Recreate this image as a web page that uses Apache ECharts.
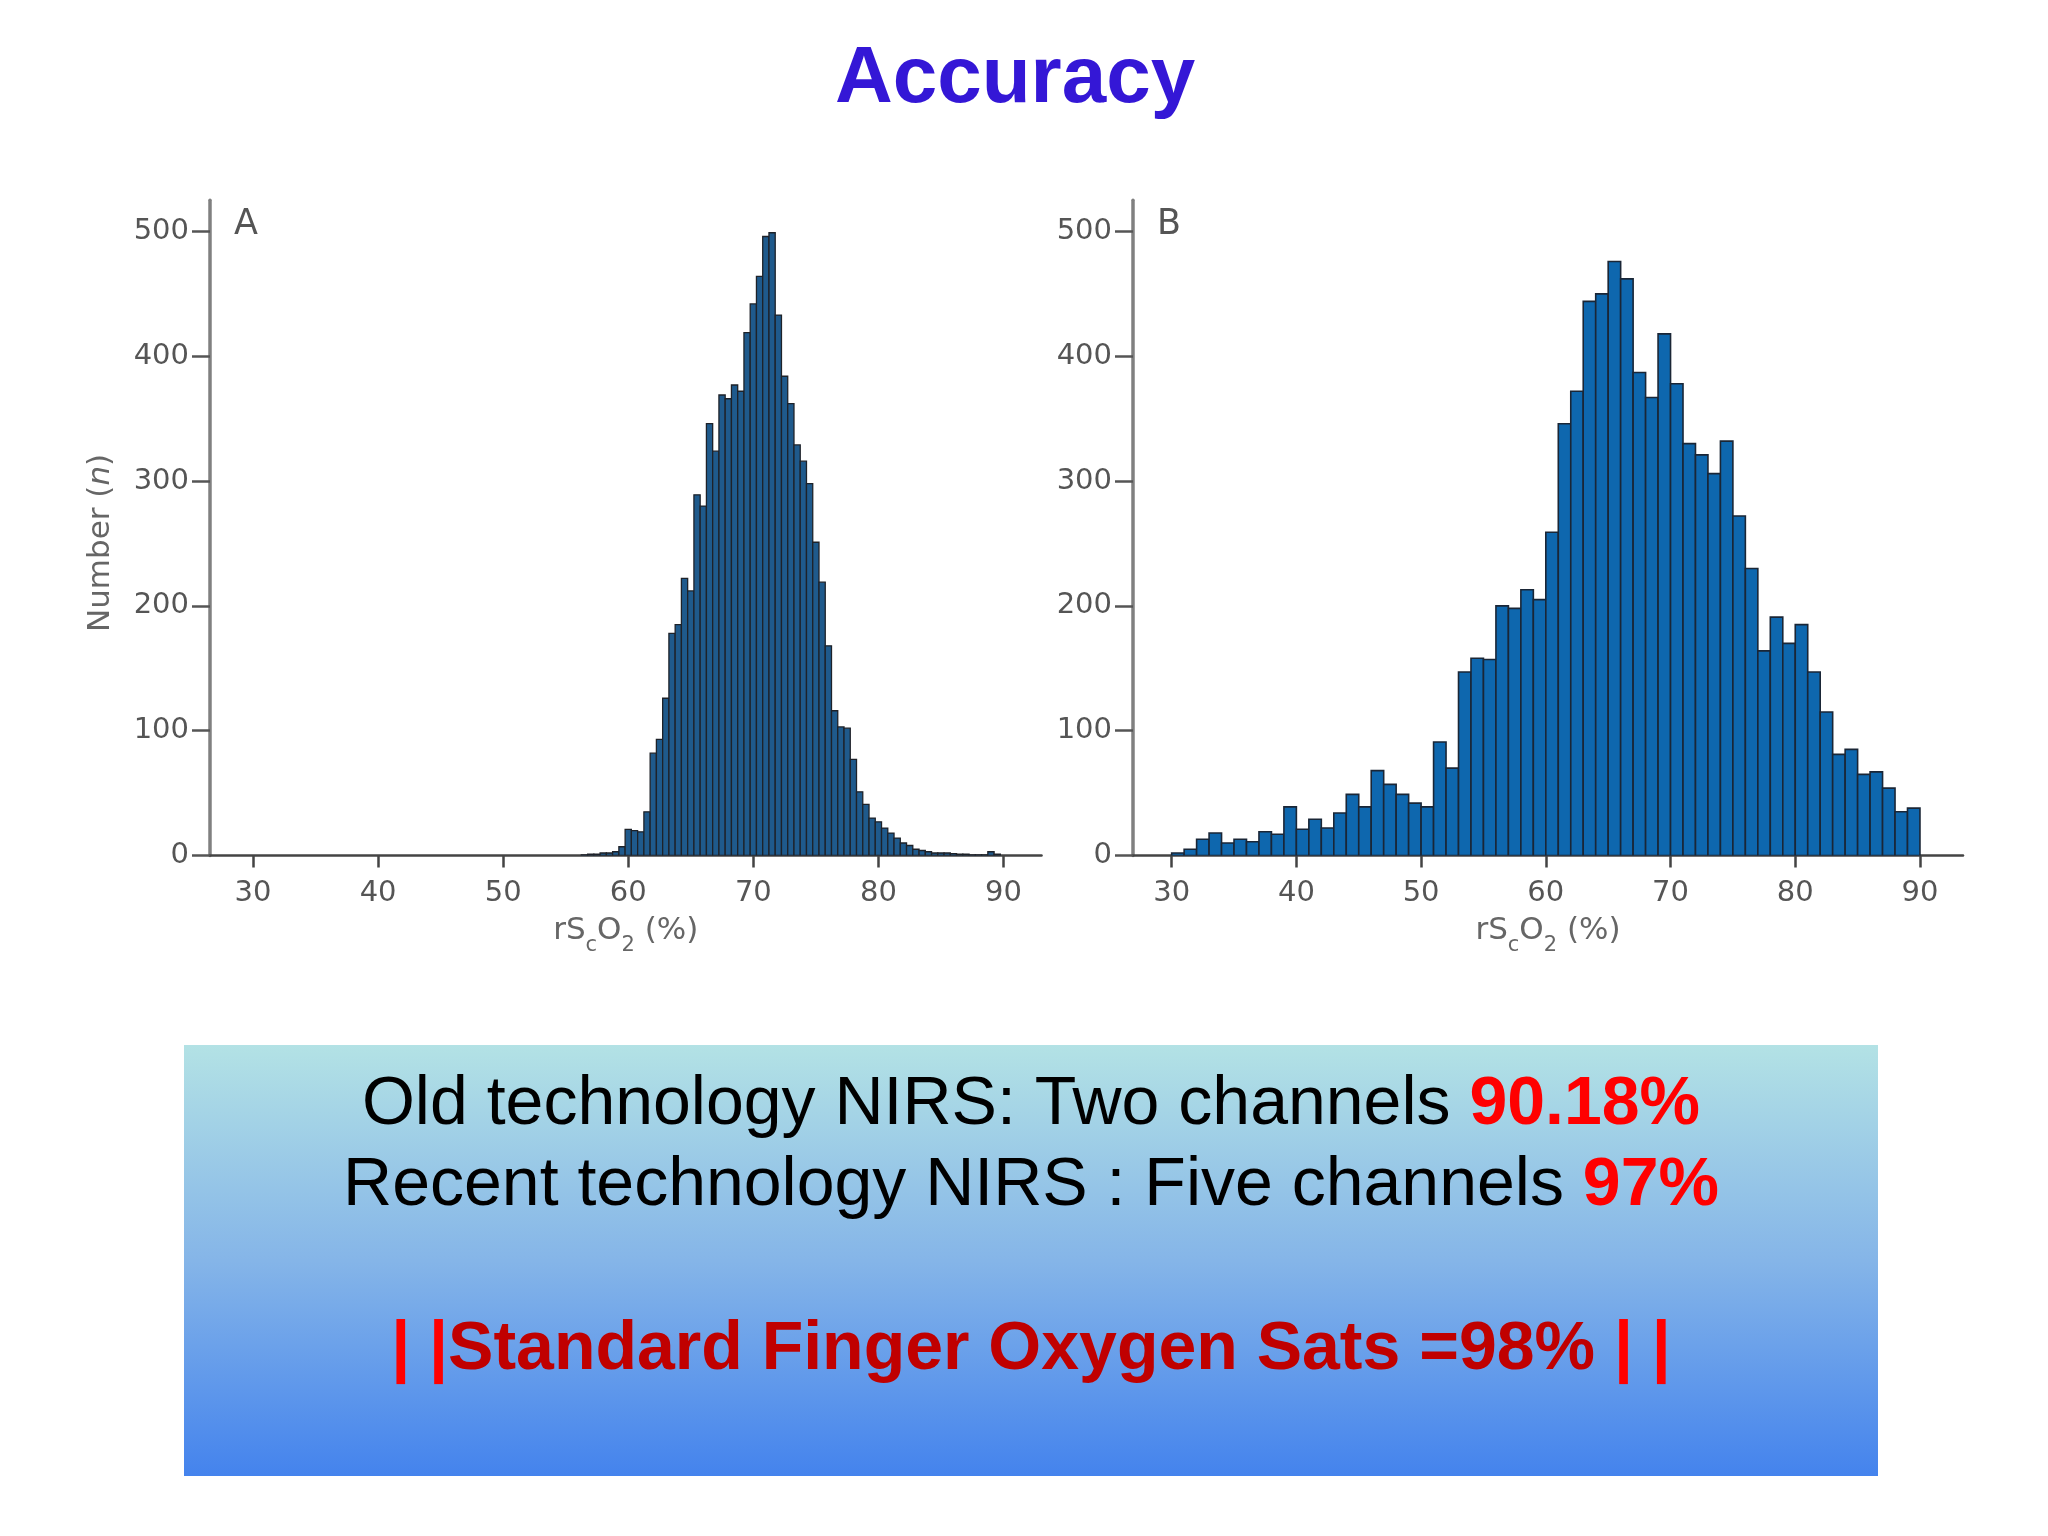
<!DOCTYPE html>
<html>
<head>
<meta charset="utf-8">
<script src="https://cdn.jsdelivr.net/npm/echarts@6/dist/echarts.min.js"></script>
<style>
  html, body { margin: 0; padding: 0; background: #ffffff; }
  #chart { width: 2048px; height: 1536px; }
</style>
</head>
<body>
<div id="chart"></div>
<script>
// ---------- DATA ----------
// Panel A: bin centres (0.5 % wide bins) and counts
const binsA = [56.5, 57, 57.5, 58, 58.5, 59, 59.5, 60, 60.5, 61, 61.5, 62, 62.5, 63, 63.5, 64, 64.5, 65, 65.5,
  66, 66.5, 67, 67.5, 68, 68.5, 69, 69.5, 70, 70.5, 71, 71.5, 72, 72.5, 73, 73.5, 74, 74.5, 75, 75.5,
  76, 76.5, 77, 77.5, 78, 78.5, 79, 79.5, 80, 80.5, 81, 81.5, 82, 82.5, 83, 83.5, 84, 84.5, 85, 85.5,
  86, 86.5, 87, 87.5, 88, 88.5, 89, 89.5];
const countsA = [0.5, 1, 1, 2, 2, 3, 7, 21, 20, 19, 35, 82, 93, 126, 178, 185, 222, 212, 289,
  280, 346, 324, 369, 366, 377, 372, 419, 442, 464, 496, 499, 433, 384, 362, 329, 316, 298, 251, 219,
  168, 116, 103, 102, 77, 51, 41, 30, 27, 22, 18, 14, 10, 8, 5, 4, 3, 2, 2, 2,
  1.5, 1, 1, 0.5, 0.5, 0.5, 3, 1];
const binWidthA = 0.5;

// Panel B: bin centres (1 % wide bins) and counts
const binsB = [30.5, 31.5, 32.5, 33.5, 34.5, 35.5, 36.5, 37.5, 38.5, 39.5, 40.5, 41.5, 42.5, 43.5, 44.5,
  45.5, 46.5, 47.5, 48.5, 49.5, 50.5, 51.5, 52.5, 53.5, 54.5, 55.5, 56.5, 57.5, 58.5, 59.5, 60.5,
  61.5, 62.5, 63.5, 64.5, 65.5, 66.5, 67.5, 68.5, 69.5, 70.5, 71.5, 72.5, 73.5, 74.5, 75.5, 76.5,
  77.5, 78.5, 79.5, 80.5, 81.5, 82.5, 83.5, 84.5, 85.5, 86.5, 87.5, 88.5, 89.5];
const countsB = [2, 5, 13, 18, 10, 13, 11, 19, 17, 39, 21, 29, 22, 34, 49,
  39, 68, 57, 49, 42, 39, 91, 70, 147, 158, 157, 200, 198, 213, 205, 259,
  346, 372, 444, 450, 476, 462, 387, 367, 418, 378, 330, 321, 306, 332, 272, 230,
  164, 191, 170, 185, 147, 115, 81, 85, 65, 67, 54, 35, 38];
const binWidthB = 1;

// Tick labels
const xTicks = [30, 40, 50, 60, 70, 80, 90];
const yTicks = [0, 100, 200, 300, 400, 500];

// Texts
const titleText = 'Accuracy';
const yAxisName = 'Number ({i|n})';
const xAxisName = '{m|rS}{s|c}{m|O}{s|2}{m| (%)}';
const line1 = '{n|Old technology NIRS: Two channels }{r|90.18%}';
const line2 = '{n|Recent technology NIRS : Five channels }{r|97%}';
const line3 = '{p|| |}{d|Standard Finger Oxygen Sats =98%}{p| | |}';

// ---------- CHART ----------
const chart = echarts.init(document.getElementById('chart'), null, { renderer: 'canvas', width: 2048, height: 1536 });

const labelFont = 'DejaVu Sans';
const grey = '#555555';

function xAxisCfg(gridIndex, min, max) {
  return {
    type: 'value', gridIndex: gridIndex, min: min, max: max,
    splitLine: { show: false },
    axisLine: { show: true, onZero: false, lineStyle: { color: '#444444', width: 2.5 } },
    axisTick: { show: true, length: 12, customValues: xTicks, lineStyle: { color: '#444444', width: 2.5 } },
    axisLabel: { show: true, customValues: xTicks, margin: 23, color: grey, fontSize: 29, fontFamily: labelFont },
    name: xAxisName, nameLocation: 'middle', nameGap: 60,
    nameTextStyle: {
      rich: {
        m: { fontSize: 31, fontFamily: labelFont, color: '#666666', verticalAlign: 'bottom', padding: [0, 0, 10, 0] },
        s: { fontSize: 21, fontFamily: labelFont, color: '#666666', verticalAlign: 'bottom' }
      }
    }
  };
}
function yAxisCfg(gridIndex, withName) {
  const cfg = {
    type: 'value', gridIndex: gridIndex, min: 0, max: 525,
    splitLine: { show: false },
    axisLine: { show: true, onZero: false, lineStyle: { color: '#808080', width: 3.5 } },
    axisTick: { show: true, length: 18, customValues: yTicks, lineStyle: { color: '#555555', width: 2.5 } },
    axisLabel: { show: true, customValues: yTicks, margin: 21, color: grey, fontSize: 29, fontFamily: labelFont }
  };
  if (withName) {
    cfg.name = yAxisName;
    cfg.nameLocation = 'middle';
    cfg.nameRotate = 90;
    cfg.nameGap = 94;
    cfg.nameTextStyle = {
      fontSize: 31, fontFamily: labelFont, color: '#666666', padding: [0, 30, 0, 0],
      rich: { i: { fontSize: 31, fontFamily: labelFont, color: '#666666', fontStyle: 'italic' } }
    };
  }
  return cfg;
}

function histSeries(idx, bins, counts, width, fill, stroke, lw) {
  return {
    type: 'custom', xAxisIndex: idx, yAxisIndex: idx, clip: true,
    data: bins.map((b, i) => [b, counts[i]]),
    encode: { x: 0, y: 1 },
    renderItem: function (params, api) {
      const c = api.value(0), v = api.value(1);
      const p0 = api.coord([c - width / 2, v]);
      const p1 = api.coord([c + width / 2, 0]);
      return {
        type: 'rect',
        shape: { x: p0[0], y: p0[1], width: p1[0] - p0[0], height: p1[1] - p0[1] },
        style: { fill: fill, stroke: stroke, lineWidth: lw }
      };
    },
    z: 1
  };
}

const option = {
  backgroundColor: '#ffffff',
  animation: false,
  grid: [
    { left: 210, top: 200.3, width: 831.5, height: 655.2, containLabel: false },
    { left: 1133, top: 200.3, width: 830, height: 655.2, containLabel: false }
  ],
  xAxis: [xAxisCfg(0, 26.56, 93.04), xAxisCfg(1, 26.9, 93.45)],
  yAxis: [yAxisCfg(0, true), yAxisCfg(1, false)],
  series: [
    histSeries(0, binsA, countsA, binWidthA, '#1f5a8c', '#1e2229', 1.3),
    histSeries(1, binsB, countsB, binWidthB, '#0e67ae', '#1a2636', 1.6)
  ],
  graphic: [
    { type: 'text', x: 1015, y: 80, style: { text: titleText, fill: '#3417d6', font: 'bold 80px "Liberation Sans", Arial, sans-serif', align: 'center', verticalAlign: 'middle' } },
    { type: 'text', x: 246, y: 225, style: { text: 'A', fill: grey, font: '35px "DejaVu Sans"', align: 'center', verticalAlign: 'middle' } },
    { type: 'text', x: 1169, y: 225, style: { text: 'B', fill: grey, font: '35px "DejaVu Sans"', align: 'center', verticalAlign: 'middle' } },
    {
      type: 'rect', shape: { x: 184, y: 1045, width: 1694, height: 431 },
      style: {
        fill: new echarts.graphic.LinearGradient(0, 0, 0, 1, [
          { offset: 0, color: '#b3e2e5' },
          { offset: 0.5, color: '#85b5e8' },
          { offset: 1, color: '#4483ed' }
        ])
      }, z: 0
    },
    {
      type: 'text', x: 1031, y: 1105, z: 5,
      style: {
        text: line1, align: 'center', verticalAlign: 'middle',
        rich: {
          n: { fontSize: 68, fontFamily: 'Liberation Sans', fill: '#000000' },
          r: { fontSize: 68, fontFamily: 'Liberation Sans', fontWeight: 'bold', fill: '#ff0000' }
        }
      }
    },
    {
      type: 'text', x: 1031, y: 1186, z: 5,
      style: {
        text: line2, align: 'center', verticalAlign: 'middle',
        rich: {
          n: { fontSize: 68, fontFamily: 'Liberation Sans', fill: '#000000' },
          r: { fontSize: 68, fontFamily: 'Liberation Sans', fontWeight: 'bold', fill: '#ff0000' }
        }
      }
    },
    {
      type: 'text', x: 1031, y: 1350, z: 5,
      style: {
        text: line3, align: 'center', verticalAlign: 'middle',
        rich: {
          p: { fontSize: 68, fontFamily: 'Liberation Sans', fontWeight: 'bold', fill: '#ff0000' },
          d: { fontSize: 68, fontFamily: 'Liberation Sans', fontWeight: 'bold', fill: '#c00000' }
        }
      }
    }
  ]
};
chart.setOption(option);
</script>
</body>
</html>
